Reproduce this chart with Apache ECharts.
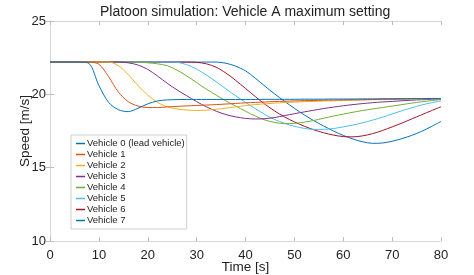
<!DOCTYPE html>
<html>
<head>
<meta charset="utf-8">
<script src="https://cdn.jsdelivr.net/npm/echarts@6/dist/echarts.min.js"></script>
<style>
html,body{margin:0;padding:0;background:#fff;}
#main{width:474px;height:275px;}
</style>
</head>
<body>
<div id="main"></div>
<script>
// time axis [s], one sample every 2 s
var time = [0,2,4,6,8,10,12,14,16,18,20,22,24,26,28,30,32,34,36,38,40,42,44,46,48,50,52,54,56,58,60,62,64,66,68,70,72,74,76,78,80];

// speed of each vehicle [m/s]
var vehicle0 = [22.2,22.2,22.2,22.2,22.1,20.6,19.45,18.95,18.82,19.05,19.35,19.55,19.62,19.64,19.65,19.65,19.65,19.65,19.65,19.65,19.65,19.65,19.66,19.66,19.66,19.66,19.67,19.67,19.67,19.68,19.68,19.68,19.69,19.69,19.7,19.7,19.7,19.71,19.71,19.72,19.72];
var vehicle1 = [22.2,22.2,22.2,22.2,22.2,22.05,21.2,20.15,19.5,19.2,19.1,19.1,19.14,19.18,19.21,19.24,19.27,19.3,19.34,19.38,19.42,19.45,19.48,19.51,19.53,19.55,19.57,19.58,19.6,19.61,19.62,19.63,19.64,19.65,19.66,19.67,19.68,19.69,19.7,19.71,19.72];
var vehicle2 = [22.2,22.2,22.2,22.2,22.2,22.2,22.2,21.95,21.35,20.6,19.95,19.45,19.15,19.0,18.93,18.9,18.92,18.98,19.06,19.15,19.23,19.3,19.35,19.4,19.44,19.47,19.5,19.52,19.54,19.56,19.58,19.6,19.61,19.63,19.64,19.66,19.67,19.68,19.69,19.7,19.71];
var vehicle3 = [22.2,22.2,22.2,22.2,22.2,22.2,22.2,22.2,22.15,22.0,21.7,21.25,20.75,20.3,19.9,19.5,19.15,18.85,18.62,18.46,18.36,18.32,18.34,18.42,18.55,18.68,18.8,18.92,19.03,19.13,19.22,19.3,19.37,19.43,19.48,19.52,19.56,19.6,19.63,19.66,19.69];
var vehicle4 = [22.2,22.2,22.2,22.2,22.2,22.2,22.2,22.2,22.2,22.2,22.15,22.08,21.95,21.65,21.25,20.8,20.35,19.95,19.55,19.2,18.85,18.52,18.25,18.08,18.0,18.02,18.1,18.22,18.37,18.52,18.65,18.78,18.9,19.0,19.1,19.2,19.3,19.4,19.49,19.57,19.64];
var vehicle5 = [22.2,22.2,22.2,22.2,22.2,22.2,22.2,22.2,22.2,22.2,22.2,22.2,22.2,22.18,22.02,21.72,21.32,20.86,20.37,19.9,19.45,19.02,18.62,18.28,18.02,17.82,17.68,17.61,17.61,17.67,17.78,17.91,18.06,18.24,18.44,18.66,18.88,19.08,19.27,19.42,19.55];
var vehicle6 = [22.2,22.2,22.2,22.2,22.2,22.2,22.2,22.2,22.2,22.2,22.2,22.2,22.2,22.2,22.2,22.18,22.08,21.85,21.45,20.95,20.4,19.85,19.32,18.86,18.46,18.12,17.83,17.58,17.38,17.22,17.12,17.1,17.17,17.32,17.53,17.78,18.04,18.32,18.6,18.88,19.15];
var vehicle7 = [22.2,22.2,22.2,22.2,22.2,22.2,22.2,22.2,22.2,22.2,22.2,22.2,22.2,22.2,22.2,22.2,22.2,22.2,22.12,21.92,21.6,21.1,20.55,20.02,19.52,19.05,18.6,18.2,17.84,17.5,17.2,16.95,16.76,16.66,16.68,16.8,16.98,17.2,17.47,17.8,18.15];

var names = ['Vehicle 0 (lead vehicle)','Vehicle 1','Vehicle 2','Vehicle 3','Vehicle 4','Vehicle 5','Vehicle 6','Vehicle 7'];
var speeds = [vehicle0,vehicle1,vehicle2,vehicle3,vehicle4,vehicle5,vehicle6,vehicle7];
var xTicks = [0,10,20,30,40,50,60,70,80];
var yTicks = [10,15,20,25];

function PlatoonChart(id){
    var dom = document.getElementById(id);
    var myChart = echarts.init(dom);
    var font = 'Liberation Sans, Arial, Helvetica, sans-serif';

    var series = [];
    for(var i=0;i<speeds.length;++i){
        var pts = [];
        for(var j=0;j<time.length;++j){
            pts.push([time[j], speeds[i][j]]);
        }
        series.push({
            name: names[i],
            type: 'line',
            data: pts,
            symbol: 'none',
            smooth: 0.3,
            lineStyle: {width: 1},
            z: 10 - i
        });
    }

    var axisLine = {show: true, lineStyle: {color: '#d6d6d6', width: 1}};
    var tickIn = {show: true, inside: true, length: 4, lineStyle: {color: '#bdbdbd'}};

    var option = {
        animation: false,
        color: ['#0072BD','#D95319','#EDB120','#7E2F8E','#77AC30','#4DBEEE','#A2142F','#0072BD'],
        title: {
            text: 'Platoon simulation: Vehicle A maximum setting',
            left: 100,
            top: 5,
            padding: 0,
            textStyle: {
                color: '#222',
                fontWeight: 'normal',
                fontFamily: font,
                fontSize: 14
            }
        },
        legend: {
            orient: 'vertical',
            left: 71,
            top: 135,
            icon: 'rect',
            itemWidth: 9,
            itemHeight: 1.5,
            itemGap: 0,
            padding: [3, 2, 3, 5],
            backgroundColor: '#fff',
            borderColor: '#d0d0d0',
            borderWidth: 1,
            borderRadius: 0,
            textStyle: {
                color: '#222',
                fontFamily: font,
                fontSize: 9.5,
                lineHeight: 11,
                padding: [0, 0, 0, -3]
            },
            data: names
        },
        grid: {
            left: 50,
            right: 33,
            top: 21,
            bottom: 34,
            containLabel: false,
            outerBoundsMode: 'none'
        },
        xAxis: [
            {
                type: 'value',
                min: 0,
                max: 80,
                interval: 10,
                name: 'Time [s]',
                nameLocation: 'middle',
                nameGap: 19,
                nameMoveOverlap: false,
                nameTextStyle: {color: '#222', fontFamily: font, fontSize: 13.5},
                axisLine: axisLine,
                axisTick: tickIn,
                splitLine: {show: false},
                axisLabel: {
                    margin: 8,
                    color: '#222',
                    fontFamily: font,
                    fontSize: 13,
                    formatter: function (v) { return xTicks.indexOf(v) >= 0 ? String(v) : ''; }
                }
            },
            {
                type: 'value',
                position: 'top',
                min: 0,
                max: 80,
                interval: 10,
                axisLine: axisLine,
                axisTick: tickIn,
                axisLabel: {show: false},
                splitLine: {show: false}
            }
        ],
        yAxis: [
            {
                type: 'value',
                min: 10,
                max: 25,
                interval: 5,
                name: 'Speed [m/s]',
                nameLocation: 'middle',
                nameGap: 18,
                nameMoveOverlap: false,
                nameTextStyle: {color: '#222', fontFamily: font, fontSize: 13.5},
                axisLine: axisLine,
                axisTick: tickIn,
                splitLine: {show: false},
                axisLabel: {
                    margin: 4,
                    color: '#222',
                    fontFamily: font,
                    fontSize: 13,
                    formatter: function (v) { return yTicks.indexOf(v) >= 0 ? String(v) : ''; }
                }
            },
            {
                type: 'value',
                position: 'right',
                min: 10,
                max: 25,
                interval: 5,
                axisLine: axisLine,
                axisTick: tickIn,
                axisLabel: {show: false},
                splitLine: {show: false}
            }
        ],
        series: series
    };

    myChart.setOption(option, true);
}

PlatoonChart('main');
</script>
</body>
</html>
